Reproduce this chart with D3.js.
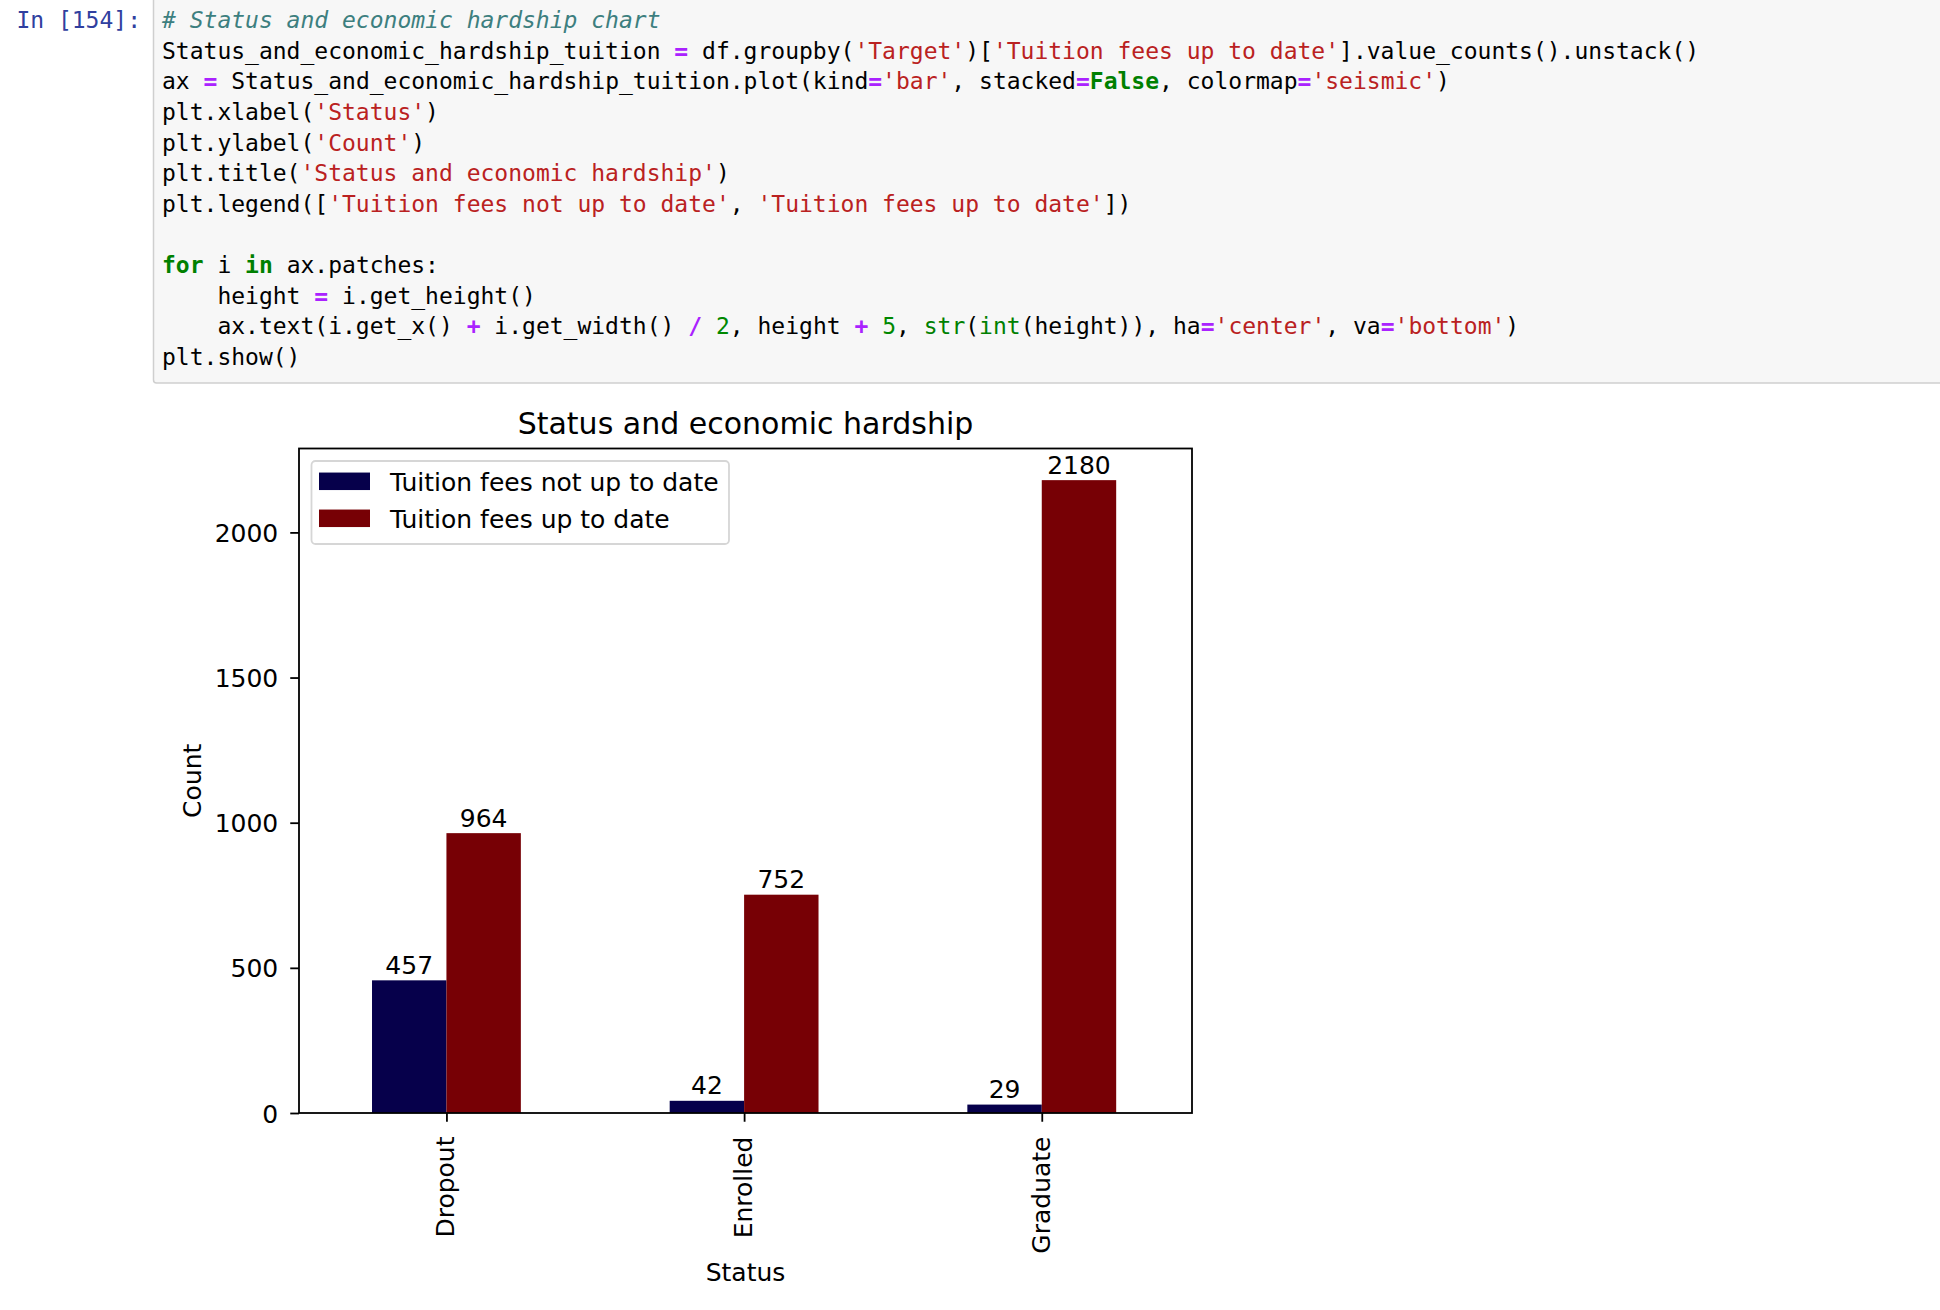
<!DOCTYPE html>
<html>
<head>
<meta charset="utf-8">
<script src="https://cdn.jsdelivr.net/npm/d3@7/dist/d3.min.js"></script>
<style>
  html, body { margin: 0; padding: 0; background: #ffffff; }
  svg { display: block; }
  .code text { white-space: pre; }
</style>
</head>
<body>
<svg id="chart" width="1940" height="1310"></svg>
<script>
// ---------------- data ----------------
const categories = ["Dropout", "Enrolled", "Graduate"];
const notUpToDate = [457, 42, 29];
const upToDate = [964, 752, 2180];
const seriesNames = ["Tuition fees not up to date", "Tuition fees up to date"];
const seriesColors = ["#06004b", "#770005"];
const yTicks = [0, 500, 1000, 1500, 2000];
const chartTitle = "Status and economic hardship";
const xLabel = "Status";
const yLabel = "Count";
const promptText = "In [154]:";

// code cell lines: [text, token-type]
const codeLines = [
  [["# Status and economic hardship chart", "c"]],
  [["Status_and_economic_hardship_tuition ", ""], ["=", "o"], [" df.groupby(", ""], ["'Target'", "s"], [")[", ""], ["'Tuition fees up to date'", "s"], ["].value_counts().unstack()", ""]],
  [["ax ", ""], ["=", "o"], [" Status_and_economic_hardship_tuition.plot(kind", ""], ["=", "o"], ["'bar'", "s"], [", stacked", ""], ["=", "o"], ["False", "k"], [", colormap", ""], ["=", "o"], ["'seismic'", "s"], [")", ""]],
  [["plt.xlabel(", ""], ["'Status'", "s"], [")", ""]],
  [["plt.ylabel(", ""], ["'Count'", "s"], [")", ""]],
  [["plt.title(", ""], ["'Status and economic hardship'", "s"], [")", ""]],
  [["plt.legend([", ""], ["'Tuition fees not up to date'", "s"], [", ", ""], ["'Tuition fees up to date'", "s"], ["])", ""]],
  [],
  [["for", "k"], [" i ", ""], ["in", "k"], [" ax.patches:", ""]],
  [["    height ", ""], ["=", "o"], [" i.get_height()", ""]],
  [["    ax.text(i.get_x() ", ""], ["+", "o"], [" i.get_width() ", ""], ["/", "o"], [" ", ""], ["2", "n"], [", height ", ""], ["+", "o"], [" ", ""], ["5", "n"], [", ", ""], ["str", "b"], ["(", ""], ["int", "b"], ["(height)), ha", ""], ["=", "o"], ["'center'", "s"], [", va", ""], ["=", "o"], ["'bottom'", "s"], [")", ""]],
  [["plt.show()", ""]]
];

const tokenStyle = {
  "":  {fill: "#000000", weight: "normal", style: "normal"},
  "c": {fill: "#3d7f7f", weight: "normal", style: "italic"},
  "s": {fill: "#ba2121", weight: "normal", style: "normal"},
  "o": {fill: "#aa22ff", weight: "bold", style: "normal"},
  "k": {fill: "#008000", weight: "bold", style: "normal"},
  "b": {fill: "#008000", weight: "normal", style: "normal"},
  "n": {fill: "#008800", weight: "normal", style: "normal"}
};

const svg = d3.select("#chart");

// ---------------- code cell ----------------
const codeFs = 23;
const code = svg.append("g").attr("class", "code");
code.append("rect")
  .attr("x", 153.5).attr("y", -4)
  .attr("width", 1800).attr("height", 387)
  .attr("rx", 3)
  .attr("fill", "#f7f7f7")
  .attr("stroke", "#cfcfcf")
  .attr("stroke-width", 1.5);

code.append("text")
  .attr("x", 141).attr("y", 28)
  .attr("text-anchor", "end")
  .attr("font-family", "DejaVu Sans Mono")
  .attr("font-size", codeFs)
  .attr("fill", "#303f9f")
  .text(promptText);

const lineY = d3.scaleLinear().domain([0, 11]).range([28, 365]);
codeLines.forEach((tokens, i) => {
  const t = code.append("text")
    .attr("x", 162)
    .attr("y", lineY(i))
    .attr("font-family", "DejaVu Sans Mono")
    .attr("font-size", codeFs);
  tokens.forEach(([txt, type]) => {
    const st = tokenStyle[type];
    t.append("tspan")
      .attr("fill", st.fill)
      .attr("font-weight", st.weight)
      .attr("font-style", st.style)
      .text(txt);
  });
});

// ---------------- chart ----------------
const pLeft = 299, pRight = 1192, pTop = 448.5, pBottom = 1113;
const font = "DejaVu Sans";
const fs = 25;

const x = d3.scaleLinear().domain([-0.5, categories.length - 0.5]).range([pLeft - 1.4, pRight - 1.4]);
const y = d3.scaleLinear().domain([0, 2180 * 1.05]).range([pBottom, pTop]);
const barW = 0.25;

const g = svg.append("g");

// bars
const series = [notUpToDate, upToDate];
series.forEach((vals, si) => {
  const off = si === 0 ? -barW : 0;
  g.selectAll(null)
    .data(vals)
    .enter()
    .append("rect")
    .attr("x", (d, i) => x(i + off))
    .attr("y", d => y(d))
    .attr("width", x(barW) - x(0))
    .attr("height", d => y(0) - y(d))
    .attr("fill", seriesColors[si]);
});

// bar labels
series.forEach((vals, si) => {
  const off = si === 0 ? -barW / 2 : barW / 2;
  g.selectAll(null)
    .data(vals)
    .enter()
    .append("text")
    .attr("x", (d, i) => x(i + off))
    .attr("y", d => y(d + 5) - 5)
    .attr("text-anchor", "middle")
    .attr("font-family", font)
    .attr("font-size", fs)
    .attr("fill", "#000")
    .text(d => String(d));
});

// axes frame
g.append("rect")
  .attr("x", pLeft).attr("y", pTop)
  .attr("width", pRight - pLeft).attr("height", pBottom - pTop)
  .attr("fill", "none")
  .attr("stroke", "#000")
  .attr("stroke-width", 1.8);

// y axis ticks
const yAxis = d3.axisLeft(y).tickValues(yTicks).tickSize(8.75).tickPadding(12).tickFormat(d3.format("d"));
const yg = svg.append("g").attr("transform", `translate(${pLeft},0)`).call(yAxis);
yg.select(".domain").remove();
yg.selectAll(".tick line").attr("stroke", "#000").attr("stroke-width", 1.8);
yg.selectAll(".tick text")
  .attr("font-family", font)
  .attr("font-size", fs)
  .attr("fill", "#000")
  .attr("dy", "0.36em");

// x axis ticks
const xAxis = d3.axisBottom(x).tickValues(d3.range(categories.length)).tickSize(8.75).tickFormat(i => categories[i]);
const xg = svg.append("g").attr("transform", `translate(0,${pBottom})`).call(xAxis);
xg.select(".domain").remove();
xg.selectAll(".tick line").attr("stroke", "#000").attr("stroke-width", 1.8);
xg.selectAll(".tick text")
  .attr("font-family", font)
  .attr("font-size", fs)
  .attr("fill", "#000")
  .attr("text-anchor", "end")
  .attr("transform", "translate(0,23.5) rotate(-90)")
  .attr("x", 0)
  .attr("y", 0)
  .attr("dy", "0.3em");

// title
svg.append("text")
  .attr("x", (pLeft + pRight) / 2)
  .attr("y", 434)
  .attr("text-anchor", "middle")
  .attr("font-family", font)
  .attr("font-size", 30)
  .attr("fill", "#000")
  .text(chartTitle);

// axis labels
svg.append("text")
  .attr("x", (pLeft + pRight) / 2)
  .attr("y", 1280.5)
  .attr("text-anchor", "middle")
  .attr("font-family", font)
  .attr("font-size", fs)
  .attr("fill", "#000")
  .text(xLabel);

svg.append("text")
  .attr("transform", `translate(201,${(pTop + pBottom) / 2}) rotate(-90)`)
  .attr("text-anchor", "middle")
  .attr("font-family", font)
  .attr("font-size", fs)
  .attr("fill", "#000")
  .text(yLabel);

// legend
const lg = svg.append("g");
lg.append("rect")
  .attr("x", 311.5).attr("y", 461)
  .attr("width", 417.5).attr("height", 83)
  .attr("rx", 4)
  .attr("fill", "#ffffff").attr("fill-opacity", 0.8)
  .attr("stroke", "#d6d6d6").attr("stroke-width", 1.8);
const legY = d3.scaleLinear().domain([0, 1]).range([481.3, 518.3]);
seriesNames.forEach((name, i) => {
  lg.append("rect")
    .attr("x", 319).attr("y", legY(i) - 8.75)
    .attr("width", 51).attr("height", 17.5)
    .attr("fill", seriesColors[i]);
  lg.append("text")
    .attr("x", 390)
    .attr("y", legY(i))
    .attr("dy", "0.38em")
    .attr("font-family", font)
    .attr("font-size", fs)
    .attr("fill", "#000")
    .text(name);
});
</script>
</body>
</html>
